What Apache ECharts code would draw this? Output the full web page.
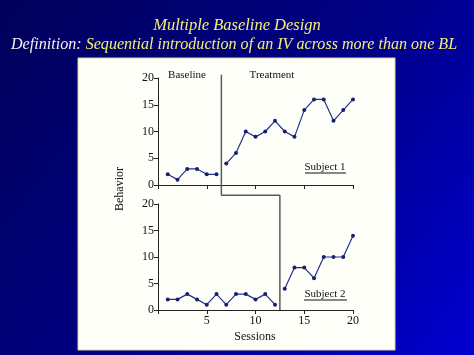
<!DOCTYPE html>
<html>
<head>
<meta charset="utf-8">
<script src="https://cdn.jsdelivr.net/npm/echarts@6/dist/echarts.min.js"></script>
<style>
  html, body { margin: 0; padding: 0; }
  #chart { width: 474px; height: 355px; }
</style>
</head>
<body>
<div id="chart"></div>
<script>
// sessions 1..20
const sessions = [1, 2, 3, 4, 5, 6, 7, 8, 9, 10, 11, 12, 13, 14, 15, 16, 17, 18, 19, 20]
const subject1Values = [2, 1, 3, 3, 2, 2, 4, 6, 10, 9, 10, 12, 10, 9, 14, 16, 16, 12, 14, 16]
const subject2Values = [2, 2, 3, 2, 1, 3, 1, 3, 3, 2, 3, 1, 4, 8, 8, 6, 10, 10, 10, 14]
// number of baseline sessions per subject
const baselineLength = [6, 12]
const xTicks = [0, 5, 10, 15, 20]
const yTicks = [0, 5, 10, 15, 20]

const serif = '"Liberation Serif", "DejaVu Serif", serif'
const lineColor = '#24318c'
const axisColor = '#222'

const pairs = (values, from, to) =>
  sessions.slice(from, to).map((s, i) => [s, values[from + i]])

const dataSeries = (values, nBase, idx) => {
  const common = {
    type: 'line',
    xAxisIndex: idx,
    yAxisIndex: idx,
    symbol: 'circle',
    symbolSize: 4,
    lineStyle: { color: lineColor, width: 1.2 },
    itemStyle: { color: '#16206e' },
    animation: false
  }
  return [
    { ...common, data: pairs(values, 0, nBase) },
    { ...common, data: pairs(values, nBase, sessions.length) }
  ]
}

// phase change line (between last baseline and first treatment session)
const cut1 = baselineLength[0] + 0.5
const cut2 = baselineLength[1] + 0.5
const phaseStyle = {
  type: 'line',
  symbol: 'none',
  clip: false,
  silent: true,
  lineStyle: { color: '#5a5a5a', width: 1.5 },
  animation: false
}

const makeX = (idx, showLabels) => ({
  type: 'value',
  gridIndex: idx,
  min: xTicks[0],
  max: xTicks[xTicks.length - 1],
  interval: 5,
  splitLine: { show: false },
  axisLine: { lineStyle: { color: axisColor, width: 1 } },
  axisTick: { show: true, length: 4, lineStyle: { color: axisColor } },
  axisLabel: {
    show: showLabels,
    color: '#111',
    fontFamily: serif,
    fontSize: 12,
    margin: 5,
    formatter: v => (v === 0 ? '' : v)
  }
})

const makeY = (idx) => ({
  type: 'value',
  gridIndex: idx,
  min: yTicks[0],
  max: yTicks[yTicks.length - 1],
  interval: 5,
  splitLine: { show: false },
  axisLine: { show: true, lineStyle: { color: axisColor, width: 1 } },
  axisTick: { show: true, length: 4, lineStyle: { color: axisColor } },
  axisLabel: { color: '#111', fontFamily: serif, fontSize: 12, margin: 4 }
})

const label = (text, x, y, size) => ({
  type: 'text',
  x: x,
  y: y,
  style: {
    text: text,
    fill: '#111',
    font: size + 'px ' + serif,
    align: 'center',
    verticalAlign: 'middle'
  }
})

const underline = (x1, x2, y) => ({
  type: 'line',
  shape: { x1: x1, y1: y, x2: x2, y2: y },
  style: { stroke: '#111', lineWidth: 1 }
})

const titleFont = { fontFamily: serif, fontStyle: 'italic', fontWeight: 'normal' }

const chart = echarts.init(document.getElementById('chart'))

chart.setOption({
  backgroundColor: {
    type: 'linear',
    x: 0, y: 0, x2: 1, y2: 1,
    colorStops: [
      { offset: 0, color: '#00005a' },
      { offset: 0.55, color: '#000088' },
      { offset: 1, color: '#0000d2' }
    ]
  },
  title: [
    {
      text: 'Multiple Baseline Design',
      left: 'center',
      top: 12,
      textStyle: { color: '#f4ef78', ...titleFont, fontSize: 16.5 }
    },
    {
      text: '{w|Definition: }{y|Sequential introduction of an IV across more than one BL}',
      left: 6,
      top: 32,
      textStyle: {
        fontWeight: 'normal',
        rich: {
          w: { color: '#f2f2f2', ...titleFont, fontSize: 16.1 },
          y: { color: '#f4ef78', ...titleFont, fontSize: 16.1 }
        }
      }
    }
  ],
  grid: [
    { left: 158, width: 195, top: 78, height: 107 },
    { left: 158, width: 195, top: 204, height: 106 }
  ],
  xAxis: [makeX(0, false), makeX(1, true)],
  yAxis: [makeY(0), makeY(1)],
  graphic: [
    {
      type: 'rect',
      z: -10,
      shape: { x: 78, y: 58, width: 317, height: 292 },
      style: { fill: '#fffffa', stroke: '#d8d6a0', lineWidth: 1 }
    },
    label('Baseline', 187, 75, 11),
    label('Treatment', 272, 75, 11),
    label('Subject 1', 325, 167, 11),
    underline(305, 346, 173),
    label('Subject 2', 325, 294, 11),
    underline(304, 347, 300),
    label('Sessions', 255, 337, 12),
    {
      type: 'text',
      x: 120,
      y: 189,
      rotation: Math.PI / 2,
      style: {
        text: 'Behavior',
        fill: '#111',
        font: '12px ' + serif,
        align: 'center',
        verticalAlign: 'middle'
      }
    }
  ],
  series: [
    ...dataSeries(subject1Values, baselineLength[0], 0),
    ...dataSeries(subject2Values, baselineLength[1], 1),
    { ...phaseStyle, xAxisIndex: 0, yAxisIndex: 0, data: [[cut1, 20.6], [cut1, -1.9], [cut2, -1.9]] },
    { ...phaseStyle, xAxisIndex: 1, yAxisIndex: 1, data: [[cut2, 21.7], [cut2, 0]] }
  ]
})
</script>
</body>
</html>
